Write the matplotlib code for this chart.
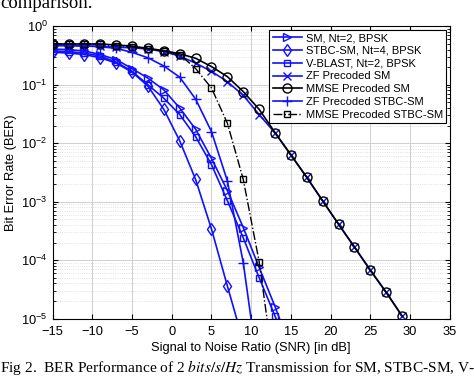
import numpy as np
import matplotlib
matplotlib.use('Agg')
import matplotlib.pyplot as plt

plt.rcParams['font.family'] = ['Liberation Sans', 'DejaVu Sans']
plt.rcParams['mathtext.fontset'] = 'stix'

# SNR points (dB)
snr = np.arange(-15, 31, 2)

# BER values
sm_nt2 = [0.41, 0.40, 0.38, 0.33, 0.27, 0.19, 0.13, 0.082, 0.040, 0.0174,
          0.0055, 0.00155, 3.6e-4, 7.5e-5, 1.6e-5, 3e-6]
stbc_sm_nt4 = [0.36, 0.35, 0.33, 0.29, 0.235, 0.165, 0.095, 0.038, 0.011,
               0.0024, 3.4e-4, 3.6e-5, 4e-6]
vblast = [0.38, 0.37, 0.35, 0.31, 0.245, 0.17, 0.10, 0.059, 0.031, 0.0130,
          0.0043, 0.00104, 2.4e-4, 5e-5, 1.1e-5, 2e-6]
zf_sm = [0.47, 0.47, 0.46, 0.455, 0.44, 0.43, 0.41, 0.37, 0.31, 0.235, 0.17,
         0.113, 0.066, 0.031, 0.015, 0.0063, 0.0026, 0.00103, 4.1e-4, 1.67e-4,
         6.7e-5, 2.8e-5, 1.1e-5]
mmse_sm = [0.50, 0.50, 0.50, 0.50, 0.48, 0.46, 0.42, 0.385, 0.34, 0.285, 0.205,
           0.138, 0.0765, 0.038, 0.0152, 0.0063, 0.0026, 0.00103, 4.1e-4,
           1.67e-4, 6.7e-5, 2.8e-5, 1.1e-5]
zf_stbc_sm = [0.47, 0.47, 0.465, 0.45, 0.42, 0.36, 0.29, 0.21, 0.135, 0.057,
              0.0158, 0.00226, 9e-5, 1e-6]
mmse_stbc_sm = [0.50, 0.50, 0.50, 0.49, 0.47, 0.45, 0.41, 0.375, 0.33, 0.19,
                0.088, 0.022, 0.0024, 9.4e-5, 1e-6]

fig = plt.figure(figsize=(4.74, 3.77), dpi=100)
ax = fig.add_axes([0.111, 0.155, 0.838, 0.775])

blue = '#1010ff'
lw = 1.2
ax.semilogy(snr[:len(sm_nt2)], sm_nt2, '->', color=blue, lw=lw, ms=6,
            mfc='none', label='SM, Nt=2, BPSK')
ax.semilogy(snr[:len(stbc_sm_nt4)], stbc_sm_nt4, '-d', color=blue, lw=lw, ms=6,
            mfc='none', label='STBC-SM, Nt=4, BPSK')
ax.semilogy(snr[:len(vblast)], vblast, '-s', color=blue, lw=lw, ms=5,
            mfc='none', label='V-BLAST, Nt=2, BPSK')
ax.semilogy(snr[:len(zf_sm)], zf_sm, '-x', color=blue, lw=lw, ms=6,
            label='ZF Precoded SM')
ax.semilogy(snr[:len(mmse_sm)], mmse_sm, '-o', color='black', lw=lw, ms=6.5,
            mfc='none', label='MMSE Precoded SM')
ax.semilogy(snr[:len(zf_stbc_sm)], zf_stbc_sm, '-+', color=blue, lw=lw, ms=7,
            label='ZF Precoded STBC-SM')
ax.semilogy(snr[:len(mmse_stbc_sm)], mmse_stbc_sm, '-.s', color='black', lw=1.0,
            ms=5, mfc='none', label='MMSE Precoded STBC-SM')

ax.set_xlim(-15, 35)
ax.set_ylim(1e-5, 1)
ax.set_xticks(np.arange(-15, 36, 5))
ax.grid(True, which='major', color='#d0d0d0', lw=0.7)
ax.grid(True, which='minor', color='#d8d8d8', lw=0.6, ls=':')
ax.tick_params(which='both', direction='in', top=True, right=True, labelsize=9.3)
ax.tick_params(axis='x', pad=5)
ax.set_xlabel('Signal to Noise Ratio (SNR) [in dB]', fontsize=9.3, labelpad=3)
ax.set_ylabel('Bit Error Rate (BER)', fontsize=9.3, labelpad=3)

leg = ax.legend(loc='upper right', fontsize=8, handlelength=2.6,
                borderaxespad=0.3, fancybox=False, edgecolor='black',
                framealpha=1, labelspacing=0.25, handletextpad=0.4,
                borderpad=0.3)
leg.get_frame().set_linewidth(0.8)

fig.text(0.0, 0.978, 'comparison.', family='Liberation Serif', fontsize=13.5,
         va='baseline', ha='left')
fig.text(0.0, 0.013,
         r'Fig 2.  BER Performance of 2 $bits/s/Hz$ Transmission for SM, STBC-SM, V-',
         family='Liberation Serif', fontsize=11.1, va='baseline', ha='left')

fig.savefig('out.png', dpi=100)
